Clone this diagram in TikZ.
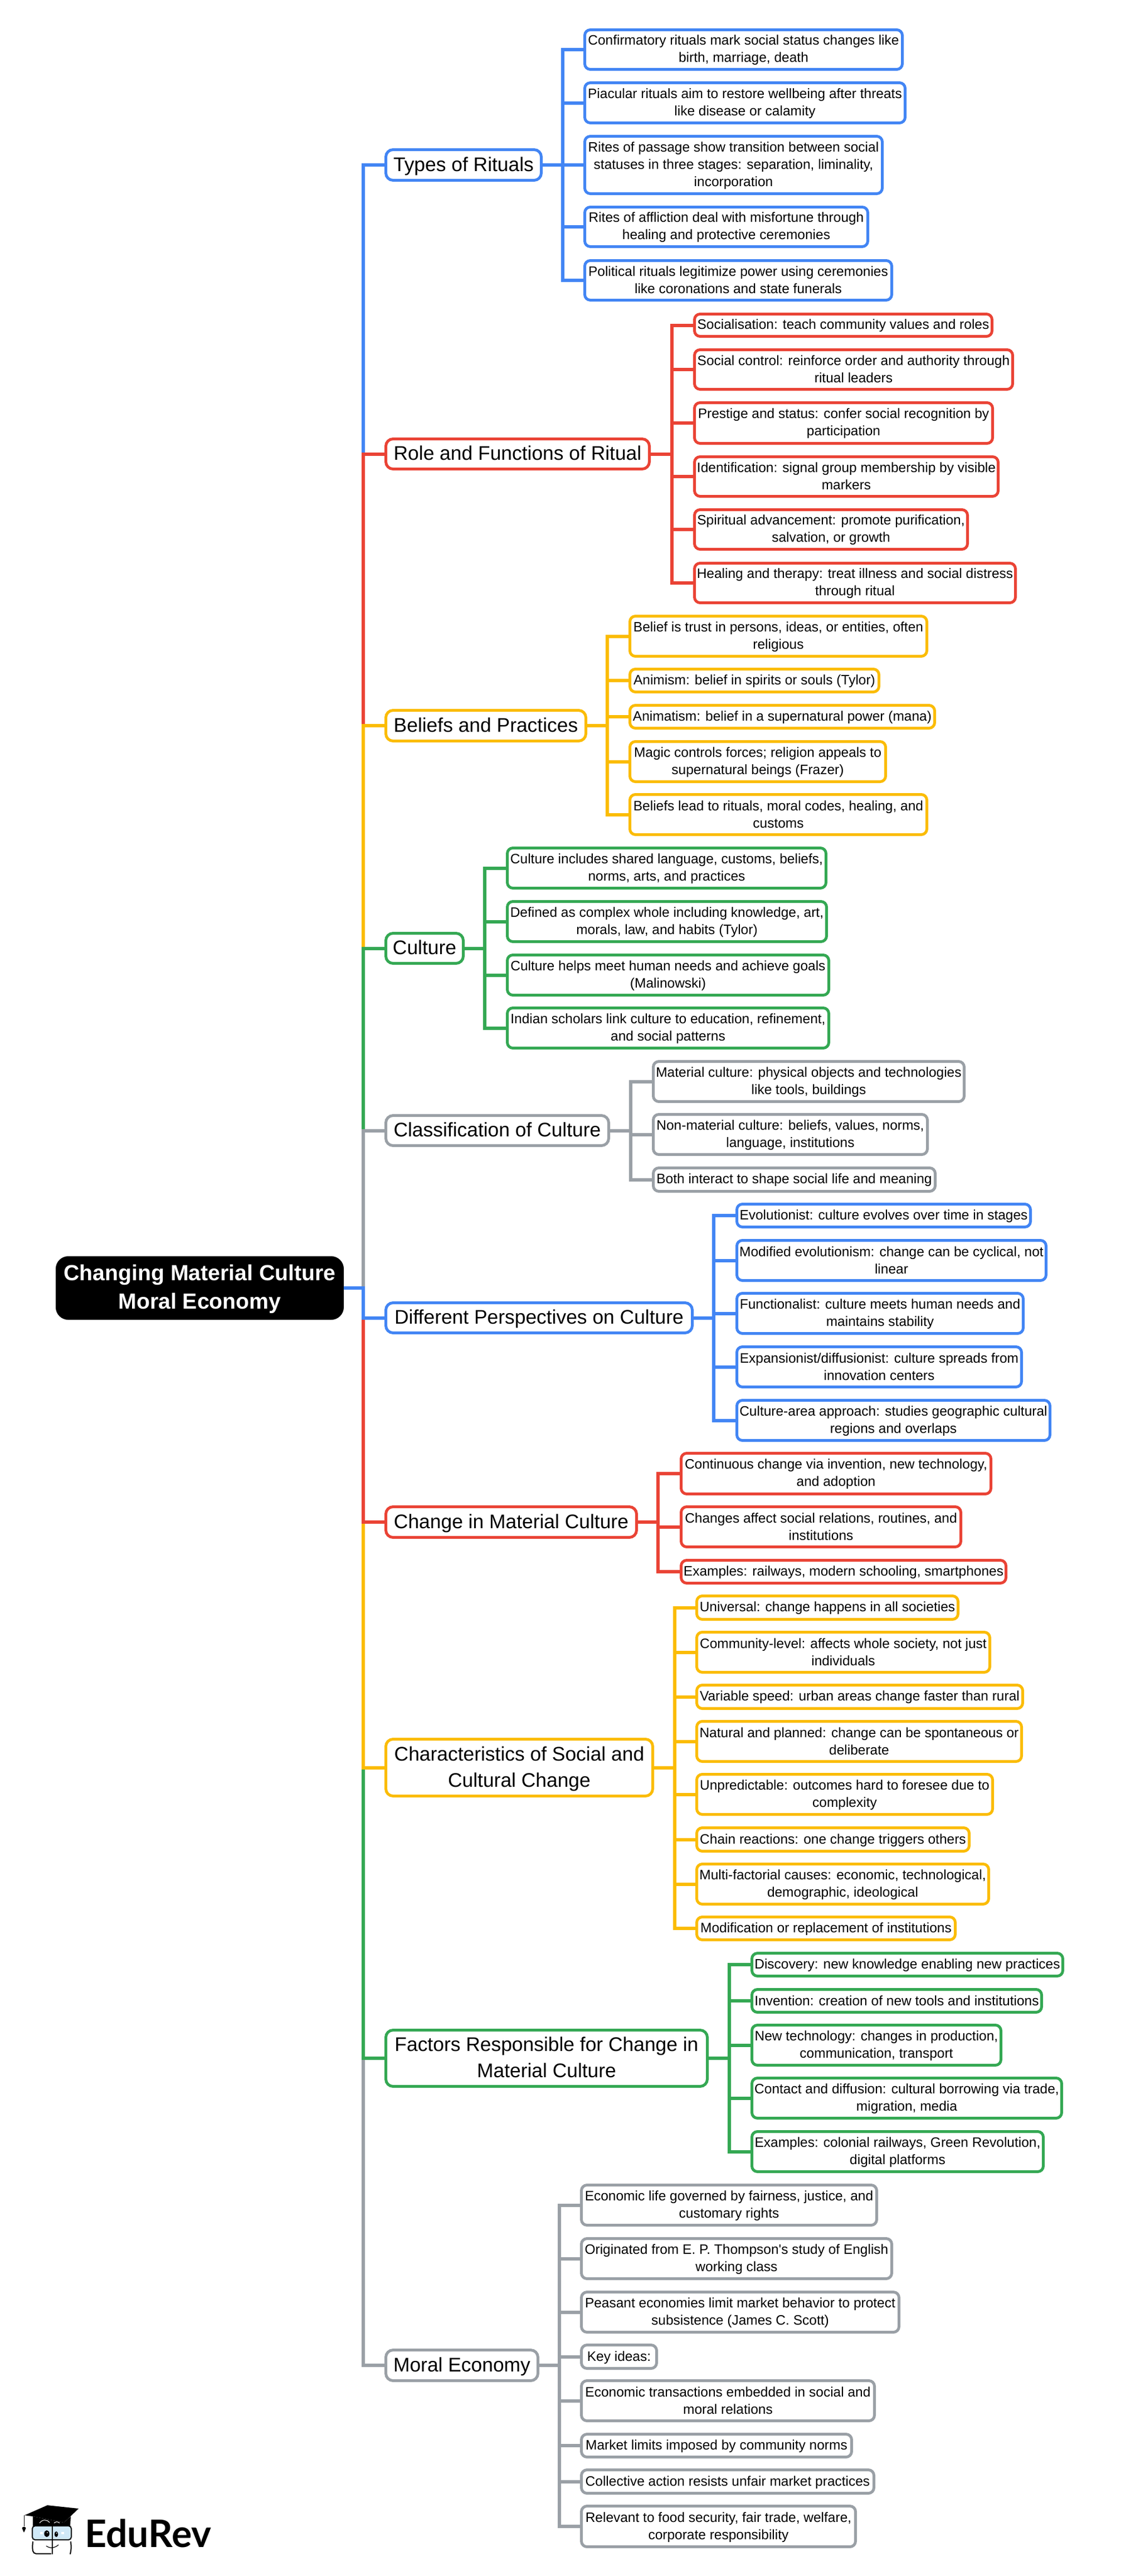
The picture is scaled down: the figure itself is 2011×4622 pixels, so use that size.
\documentclass[tikz,border=0pt]{standalone}
\usepackage{fontspec}
\newfontfamily\arial{Liberation Sans}
\newfontfamily\logofont{Lato}
\definecolor{cB}{HTML}{4285F4}
\definecolor{cR}{HTML}{EA4335}
\definecolor{cY}{HTML}{FBBC04}
\definecolor{cG}{HTML}{34A853}
\definecolor{cK}{HTML}{9AA0A6}
\definecolor{cGlass}{HTML}{CFE8F7}
\tikzset{
  boxbase/.style={draw=#1,line width=5pt,fill=white,rounded corners=10pt,inner sep=0pt,align=center,text=black},
  leafbox/.style={boxbase=#1,font=\arial\fontsize{24.5}{31}\selectfont},
  midbox/.style={boxbase=#1,rounded corners=13pt,font=\arial\fontsize{35.4}{47}\selectfont},
  rootbox/.style={draw=black,line width=1pt,fill=black,text=white,rounded corners=22pt,inner sep=0pt,align=center,font=\arial\bfseries\fontsize{39.2}{51}\selectfont},
  conn/.style={draw=#1,line width=6pt,line join=miter,line cap=butt},
  logofill/.style={fill=black,draw=none},
  logoline/.style={draw=black,line width=2pt}
}
% name, style, x1, y1, x2, y2, text
\newcommand{\leafnode}[7]{\node[leafbox=#2,minimum width={(#5-#3-5)*1pt},minimum height={(#6-#4-5)*1pt}] (#1) at ({(#3+#5)/2},{-(#4+#6)/2}) {\rule{0pt}{20pt}#7\rule[-4pt]{0pt}{4pt}};}
\newcommand{\midnode}[7]{\node[midbox=#2,minimum width={(#5-#3-5)*1pt},minimum height={(#6-#4-5)*1pt}] (#1) at ({(#3+#5)/2},{-(#4+#6)/2}) {\rule{0pt}{30pt}#7\rule[-8pt]{0pt}{8pt}};}
% colour, from node, bus coordinate, to node
\newcommand{\linkto}[4]{\draw[conn=#1] (#2.east) -- (#3 |- #2.east) -- (#3 |- #4.west) -- (#4.west);}
\begin{document}
\begin{tikzpicture}[x=1pt,y=1pt]
\useasboundingbox (0,0) rectangle (2011,-4622);
\coordinate (mainbus) at (652,0);
\coordinate (busA) at (1010,0);
\coordinate (busB) at (1206,0);
\coordinate (busC) at (1090,0);
\coordinate (busD) at (870,0);
\coordinate (busE) at (1132,0);
\coordinate (busF) at (1281,0);
\coordinate (busH) at (1181,0);
\coordinate (busI) at (1211,0);
\coordinate (busJ) at (1309,0);
\coordinate (busK) at (1004,0);

\node[rootbox,minimum width=516pt,minimum height=113pt] (root) at (358.5,-2311) {\rule{0pt}{34pt}Changing Material Culture\\Moral Economy\rule[-10pt]{0pt}{10pt}};

\midnode{A}{cB}{690}{266}{974}{326}{Types of Rituals}
\midnode{B}{cR}{690}{785}{1168}{844}{Role and Functions of Ritual}
\midnode{C}{cY}{690}{1272}{1054}{1332}{Beliefs and Practices}
\midnode{D}{cG}{690}{1672}{834}{1731}{Culture}
\midnode{E}{cK}{690}{1999}{1095}{2058}{Classification of Culture}
\midnode{F}{cB}{690}{2335}{1245}{2394}{Different Perspectives on Culture}
\midnode{H}{cR}{690}{2701}{1145}{2761}{Change in Material Culture}
\midnode{I}{cY}{690}{3118}{1174}{3225}{Characteristics of Social and\\Cultural Change}
\midnode{J}{cG}{690}{3640}{1272}{3746}{Factors Responsible for Change in\\Material Culture}
\midnode{K}{cK}{690}{4214}{968}{4274}{Moral Economy}

\leafnode{A1}{cB}{1047}{51}{1622}{127}{Confirmatory rituals mark social status changes like\\birth, marriage, death}
\leafnode{A2}{cB}{1047}{146}{1627}{223}{Piacular rituals aim to restore wellbeing after threats\\like disease or calamity}
\leafnode{A3}{cB}{1047}{242}{1586}{350}{Rites of passage show transition between social\\statuses in three stages: separation, liminality,\\incorporation}
\leafnode{A4}{cB}{1047}{369}{1560}{445}{Rites of affliction deal with misfortune through\\healing and protective ceremonies}
\leafnode{A5}{cB}{1047}{465}{1603}{541}{Political rituals legitimize power using ceremonies\\like coronations and state funerals}

\leafnode{B1}{cR}{1244}{561}{1783}{606}{Socialisation: teach community values and roles}
\leafnode{B2}{cR}{1244}{625}{1820}{701}{Social control: reinforce order and authority through\\ritual leaders}
\leafnode{B3}{cR}{1244}{720}{1784}{798}{Prestige and status: confer social recognition by\\participation}
\leafnode{B4}{cR}{1244}{817}{1794}{893}{Identification: signal group membership by visible\\markers}
\leafnode{B5}{cR}{1244}{912}{1739}{988}{Spiritual advancement: promote purification,\\salvation, or growth}
\leafnode{B6}{cR}{1244}{1008}{1825}{1084}{Healing and therapy: treat illness and social distress\\through ritual}

\leafnode{C1}{cY}{1128}{1103}{1666}{1180}{Belief is trust in persons, ideas, or entities, often\\religious}
\leafnode{C2}{cY}{1128}{1198}{1580}{1244}{Animism: belief in spirits or souls (Tylor)}
\leafnode{C3}{cY}{1128}{1263}{1680}{1309}{Animatism: belief in a supernatural power (mana)}
\leafnode{C4}{cY}{1128}{1328}{1592}{1405}{Magic controls forces; religion appeals to\\supernatural beings (Frazer)}
\leafnode{C5}{cY}{1128}{1423}{1666}{1500}{Beliefs lead to rituals, moral codes, healing, and\\customs}

\leafnode{D1}{cG}{908}{1519}{1485}{1596}{Culture includes shared language, customs, beliefs,\\norms, arts, and practices}
\leafnode{D2}{cG}{908}{1615}{1486}{1692}{Defined as complex whole including knowledge, art,\\morals, law, and habits (Tylor)}
\leafnode{D3}{cG}{908}{1711}{1490}{1788}{Culture helps meet human needs and achieve goals\\(Malinowski)}
\leafnode{D4}{cG}{908}{1806}{1490}{1883}{Indian scholars link culture to education, refinement,\\and social patterns}

\leafnode{E1}{cK}{1170}{1902}{1733}{1979}{Material culture: physical objects and technologies\\like tools, buildings}
\leafnode{E2}{cK}{1170}{1997}{1667}{2074}{Non-material culture: beliefs, values, norms,\\language, institutions}
\leafnode{E3}{cK}{1170}{2093}{1681}{2140}{Both interact to shape social life and meaning}

\leafnode{F1}{cB}{1320}{2158}{1852}{2204}{Evolutionist: culture evolves over time in stages}
\leafnode{F2}{cB}{1320}{2223}{1880}{2300}{Modified evolutionism: change can be cyclical, not\\linear}
\leafnode{F3}{cB}{1320}{2318}{1839}{2395}{Functionalist: culture meets human needs and\\maintains stability}
\leafnode{F4}{cB}{1320}{2414}{1836}{2491}{Expansionist/diffusionist: culture spreads from\\innovation centers}
\leafnode{F5}{cB}{1320}{2510}{1887}{2587}{Culture-area approach: studies geographic cultural\\regions and overlaps}

\leafnode{H1}{cR}{1220}{2605}{1781}{2683}{Continuous change via invention, new technology,\\and adoption}
\leafnode{H2}{cR}{1220}{2701}{1727}{2778}{Changes affect social relations, routines, and\\institutions}
\leafnode{H3}{cR}{1220}{2797}{1808}{2843}{Examples: railways, modern schooling, smartphones}

\leafnode{I1}{cY}{1248}{2861}{1722}{2908}{Universal: change happens in all societies}
\leafnode{I2}{cY}{1248}{2926}{1779}{3003}{Community-level: affects whole society, not just\\individuals}
\leafnode{I3}{cY}{1248}{3021}{1838}{3068}{Variable speed: urban areas change faster than rural}
\leafnode{I4}{cY}{1248}{3086}{1836}{3163}{Natural and planned: change can be spontaneous or\\deliberate}
\leafnode{I5}{cY}{1248}{3181}{1784}{3258}{Unpredictable: outcomes hard to foresee due to\\complexity}
\leafnode{I6}{cY}{1248}{3277}{1742}{3324}{Chain reactions: one change triggers others}
\leafnode{I7}{cY}{1248}{3342}{1777}{3419}{Multi-factorial causes: economic, technological,\\demographic, ideological}
\leafnode{I8}{cY}{1248}{3437}{1717}{3483}{Modification or replacement of institutions}

\leafnode{J1}{cG}{1347}{3502}{1910}{3548}{Discovery: new knowledge enabling new practices}
\leafnode{J2}{cG}{1347}{3567}{1872}{3613}{Invention: creation of new tools and institutions}
\leafnode{J3}{cG}{1347}{3631}{1799}{3708}{New technology: changes in production,\\communication, transport}
\leafnode{J4}{cG}{1347}{3726}{1908}{3803}{Contact and diffusion: cultural borrowing via trade,\\migration, media}
\leafnode{J5}{cG}{1347}{3822}{1875}{3899}{Examples: colonial railways, Green Revolution,\\digital platforms}

\leafnode{K1}{cK}{1041}{3918}{1576}{3995}{Economic life governed by fairness, justice, and\\customary rights}
\leafnode{K2}{cK}{1041}{4014}{1603}{4091}{Originated from E. P. Thompson's study of English\\working class}
\leafnode{K3}{cK}{1041}{4110}{1616}{4187}{Peasant economies limit market behavior to protect\\subsistence (James C. Scott)}
\leafnode{K4}{cK}{1041}{4205}{1181}{4252}{Key ideas:}
\leafnode{K5}{cK}{1041}{4269}{1572}{4346}{Economic transactions embedded in social and\\moral relations}
\leafnode{K6}{cK}{1041}{4365}{1531}{4411}{Market limits imposed by community norms}
\leafnode{K7}{cK}{1041}{4429}{1571}{4476}{Collective action resists unfair market practices}
\leafnode{K8}{cK}{1041}{4494}{1538}{4572}{Relevant to food security, fair trade, welfare,\\corporate responsibility}

% main trunk: outermost first, so that the nearer branch colours lie on top
\linkto{cB}{root}{mainbus}{A}
\linkto{cR}{root}{mainbus}{B}
\linkto{cY}{root}{mainbus}{C}
\linkto{cG}{root}{mainbus}{D}
\linkto{cK}{root}{mainbus}{E}
\linkto{cK}{root}{mainbus}{K}
\linkto{cG}{root}{mainbus}{J}
\linkto{cY}{root}{mainbus}{I}
\linkto{cR}{root}{mainbus}{H}
\linkto{cB}{root}{mainbus}{F}

\foreach \n in {A1,A2,A3,A4,A5} {\linkto{cB}{A}{busA}{\n}}
\foreach \n in {B1,B2,B3,B4,B5,B6} {\linkto{cR}{B}{busB}{\n}}
\foreach \n in {C1,C2,C3,C4,C5} {\linkto{cY}{C}{busC}{\n}}
\foreach \n in {D1,D2,D3,D4} {\linkto{cG}{D}{busD}{\n}}
\foreach \n in {E1,E2,E3} {\linkto{cK}{E}{busE}{\n}}
\foreach \n in {F1,F2,F3,F4,F5} {\linkto{cB}{F}{busF}{\n}}
\foreach \n in {H1,H2,H3} {\linkto{cR}{H}{busH}{\n}}
\foreach \n in {I1,I2,I3,I4,I5,I6,I7,I8} {\linkto{cY}{I}{busI}{\n}}
\foreach \n in {J1,J2,J3,J4,J5} {\linkto{cG}{J}{busJ}{\n}}
\foreach \n in {K1,K2,K3,K4,K5,K6,K7,K8} {\linkto{cK}{K}{busK}{\n}}

% logo
\fill[logofill] (59,-4515) -- (115,-4526) -- (127,-4515) -- (126,-4532) -- (59,-4532) -- cycle;
\draw[white,line width=1pt] (71,-4527) .. controls (76,-4520) and (84,-4520) .. (89,-4526);
\draw[white,line width=1pt] (97,-4527) .. controls (100,-4524) and (104,-4524) .. (107,-4527);
\fill[logofill] (44,-4513) -- (85,-4495) -- (141,-4501) -- (115,-4526) -- (59,-4515) -- cycle;
\draw[black,line width=1pt] (43,-4513) -- (43,-4533);
\fill[logofill] (39.5,-4536) .. controls (40,-4533) and (46,-4533) .. (46.5,-4536) -- (43,-4544) -- cycle;
\draw[logoline,fill=cGlass,rounded corners=5pt] (58,-4532) rectangle (128,-4557);
\draw[logoline,rounded corners=5pt] (92,-4582) -- (60,-4582) -- (58,-4572) -- (59,-4560);
\draw[logoline,rounded corners=5pt] (127,-4560) -- (128,-4572) -- (126,-4583);
\draw[logoline] (93.5,-4530) -- (93.5,-4583);
\fill[black] (84,-4546) ellipse [x radius=4.7,y radius=6];
\fill[black] (101,-4547) ellipse [x radius=3.3,y radius=5];
\fill[white] (85,-4544) circle (1);
\fill[white] (101.5,-4545) circle (1);
\fill[white] (72,-4547) rectangle (77,-4543);
\fill[white] (110,-4547) rectangle (115,-4543);
\draw[black,line width=1.2pt] (83,-4568) .. controls (90,-4573) and (98,-4572) .. (105,-4566);
\node[anchor=base west,inner sep=0pt,font=\logofont\bfseries\fontsize{68}{72}\selectfont] (logotext) at (152,-4570) {EduRev};
\end{tikzpicture}
\end{document}
